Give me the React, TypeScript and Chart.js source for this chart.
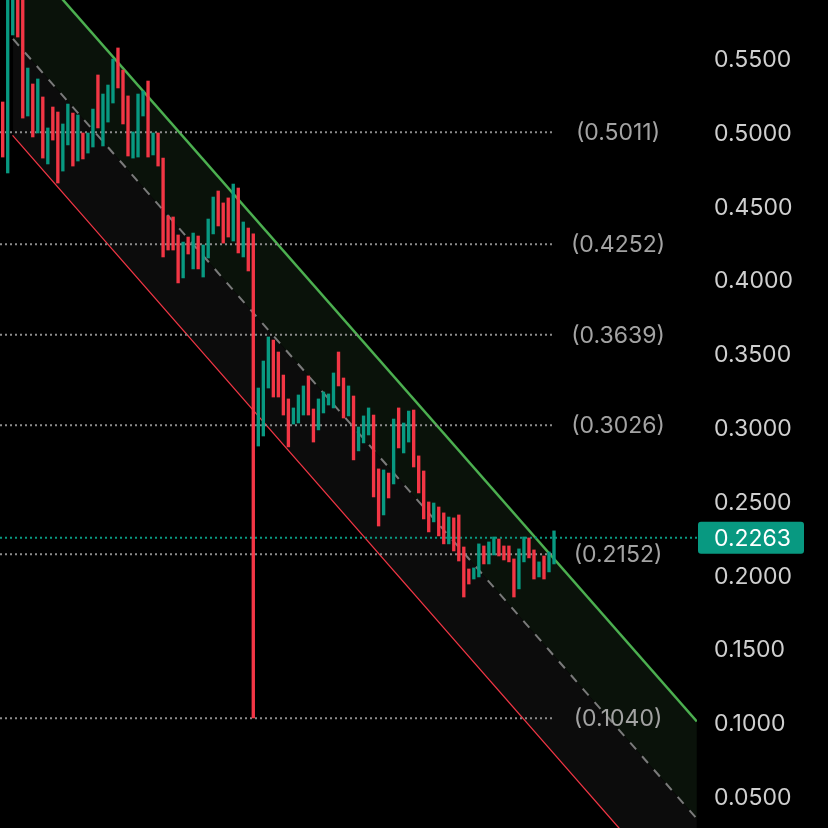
import { useEffect, useRef } from "react";
import { Chart, registerables } from "chart.js";

Chart.register(...registerables);

// Candles (index = bar number), open / close
const opens = [
  0.5216, 0.4735, 0.5670, 0.6000, 0.6000, 0.5121, 0.5338, 0.5006, 0.5250, 0.4796,
  0.5182, 0.5148, 0.4748, 0.4925, 0.5141, 0.4816, 0.5006, 0.4870, 0.4911, 0.5399,
  0.4918, 0.5080, 0.5209, 0.5582, 0.5432, 0.5257, 0.4836, 0.4843, 0.5121, 0.5358,
  0.4857, 0.5006, 0.4836, 0.4444, 0.4437, 0.4315, 0.4024, 0.4301, 0.4085, 0.4308,
  0.4030, 0.4159, 0.4322, 0.4613, 0.4532, 0.4566, 0.4274, 0.4633, 0.4166, 0.4362,
  0.4322, 0.2885, 0.2953, 0.3278, 0.3603, 0.3522, 0.3366, 0.3204, 0.3034, 0.3041,
  0.3095, 0.3360, 0.3136, 0.2994, 0.3109, 0.3163, 0.3143, 0.3522, 0.3346, 0.3089,
  0.3224, 0.2852, 0.2906, 0.2960, 0.3095, 0.2730, 0.2418, 0.2702, 0.2628, 0.3143,
  0.2838, 0.2912, 0.3129, 0.2818, 0.2716, 0.2506, 0.2371, 0.2472, 0.2432, 0.2222,
  0.2398, 0.2418, 0.2201, 0.2052, 0.1984, 0.1998, 0.2208, 0.2086, 0.2147, 0.2255,
  0.2208, 0.2208, 0.2120, 0.1917, 0.2100, 0.2262, 0.2181, 0.1998, 0.2140, 0.2032,
  0.2086,
];
const closes = [
  0.4843, 0.6000, 0.6000, 0.5656, 0.5107, 0.5446, 0.4979, 0.5372, 0.4836, 0.5040,
  0.4958, 0.4667, 0.5067, 0.5202, 0.4782, 0.5128, 0.4830, 0.5006, 0.5168, 0.5040,
  0.5270, 0.5331, 0.5507, 0.5311, 0.5067, 0.4850, 0.5013, 0.5270, 0.5290, 0.4843,
  0.5006, 0.4782, 0.4166, 0.4213, 0.4213, 0.3990, 0.4267, 0.4186, 0.4328, 0.4085,
  0.4247, 0.4423, 0.4572, 0.4376, 0.4260, 0.4301, 0.4660, 0.4193, 0.4403, 0.4071,
  0.1043, 0.3278, 0.3461, 0.3624, 0.3217, 0.3217, 0.3095, 0.2879, 0.3143, 0.3231,
  0.3292, 0.3095, 0.2912, 0.3204, 0.3251, 0.3238, 0.3380, 0.3292, 0.3075, 0.3292,
  0.2791, 0.3014, 0.3089, 0.3143, 0.2540, 0.2343, 0.2723, 0.2533, 0.3068, 0.2872,
  0.3041, 0.3122, 0.2743, 0.2567, 0.2391, 0.2303, 0.2499, 0.2276, 0.2222, 0.2404,
  0.2174, 0.2106, 0.1862, 0.1950, 0.2059, 0.2222, 0.2086, 0.2235, 0.2269, 0.2140,
  0.2113, 0.2100, 0.1862, 0.2188, 0.2269, 0.2127, 0.1984, 0.2100, 0.1984, 0.2167,
  0.2310,
];

// Descending channel (two anchor points on the bar index axis)
const channelX = [2.06, 138.5];
const channelTop = [0.6293, 0.1019];
const channelMid = [0.5643, 0.036];
const channelBottom = [0.4992, -0.0299];

// Horizontal levels
const levelValues = [0.5011, 0.4252, 0.3639, 0.3026, 0.2152, 0.104];
const levelLabels = ["(0.5011)", "(0.4252)", "(0.3639)", "(0.3026)", "(0.2152)", "(0.1040)"];
const levelEndIndex = 110;

const lastPrice = 0.2263;
const lastPriceLabel = "0.2263";

const yTicks = [0.05, 0.1, 0.15, 0.2, 0.25, 0.3, 0.35, 0.4, 0.45, 0.5, 0.55];
const yMin = 0.0297;
const yMax = 0.5907;
const xMin = -0.54;
const xMax = 138.53;

const UP = "#089981";
const DOWN = "#f23645";
const FONT = "Inter, 'Noto Sans', sans-serif";

export default function App() {
  const ref = useRef<HTMLCanvasElement | null>(null);

  useEffect(() => {
    document.body.style.margin = "0";
    document.body.style.background = "#000";
    const canvas = ref.current;
    if (!canvas) return;

    const channelPts = (vals: number[]) => channelX.map((x, i) => ({ x, y: vals[i] }));

    const levelDatasets = levelValues.map((v) => ({
      type: "line" as const,
      data: [
        { x: xMin, y: v },
        { x: levelEndIndex, y: v },
      ],
      borderColor: "#8c8c8c",
      borderWidth: 2,
      borderDash: [2, 3],
      pointRadius: 0,
      fill: false,
      order: 3,
    }));

    const labelsPlugin = {
      id: "levelLabels",
      afterDatasetsDraw(chart: any) {
        const { ctx, scales, chartArea } = chart;
        ctx.save();
        ctx.font = `23px ${FONT}`;
        ctx.fillStyle = "#a3a3a3";
        ctx.textAlign = "center";
        ctx.textBaseline = "middle";
        levelValues.forEach((v, i) => {
          const y = scales.y.getPixelForValue(v);
          ctx.fillText(levelLabels[i], chartArea.right - 79, y + 1);
        });
        ctx.restore();
      },
      afterDraw(chart: any) {
        const { ctx, scales, chartArea } = chart;
        const y = scales.y.getPixelForValue(lastPrice);
        ctx.save();
        const x0 = chartArea.right + 1;
        const w = 106;
        const h = 32;
        ctx.fillStyle = UP;
        ctx.beginPath();
        (ctx as any).roundRect(x0, y - h / 2, w, h, 3);
        ctx.fill();
        ctx.fillStyle = "#ffffff";
        ctx.font = `23px ${FONT}`;
        ctx.textAlign = "left";
        ctx.textBaseline = "middle";
        ctx.fillText(lastPriceLabel, chartArea.right + 17, y + 1);
        ctx.restore();
      },
    };

    const chart = new Chart(canvas, {
      type: "bar",
      data: {
        datasets: [
          {
            type: "line",
            data: channelPts(channelTop),
            borderColor: "#4caf50",
            borderWidth: 2.5,
            pointRadius: 0,
            fill: "+1",
            backgroundColor: "#0a120a",
            order: 5,
          },
          {
            type: "line",
            data: channelPts(channelMid),
            borderColor: "#7a7a7a",
            borderWidth: 2,
            borderDash: [9, 9],
            pointRadius: 0,
            fill: "+1",
            backgroundColor: "#0c0c0c",
            order: 4,
          },
          {
            type: "line",
            data: channelPts(channelBottom),
            borderColor: "#f23645",
            borderWidth: 2.5,
            pointRadius: 0,
            fill: false,
            order: 4,
          },
          ...levelDatasets,
          {
            type: "line",
            data: [
              { x: xMin, y: lastPrice },
              { x: xMax, y: lastPrice },
            ],
            borderColor: UP,
            borderWidth: 2,
            borderDash: [2, 3],
            pointRadius: 0,
            fill: false,
            order: 3,
          },
          {
            type: "bar",
            data: opens.map((o, i) => ({ x: i, y: [o, closes[i]] })),
            backgroundColor: opens.map((o, i) => (closes[i] >= o ? UP : DOWN)),
            borderWidth: 0,
            barThickness: 2.7,
            order: 0,
          } as any,
        ],
      },
      options: {
        animation: false,
        responsive: true,
        maintainAspectRatio: false,
        layout: { padding: 0 },
        plugins: {
          legend: { display: false },
          tooltip: { enabled: false },
        },
        scales: {
          x: {
            type: "linear",
            min: xMin,
            max: xMax,
            offset: false,
            display: false,
            grid: { display: false },
          },
          y: {
            type: "linear",
            position: "right",
            min: yMin,
            max: yMax,
            grid: { display: false, drawTicks: false },
            border: { display: false },
            afterBuildTicks: (axis: any) => {
              axis.ticks = yTicks.map((v) => ({ value: v }));
            },
            afterFit: (axis: any) => {
              axis.width = 131;
              axis.paddingTop = 0;
              axis.paddingBottom = 0;
            },
            ticks: {
              padding: 17,
              color: "#cfcfcf",
              font: { family: FONT, size: 23 },
              callback: (v: any) => Number(v).toFixed(4),
            },
          },
        },
      },
      plugins: [labelsPlugin],
    } as any);

    return () => chart.destroy();
  }, []);

  return (
    <div
      style={{
        position: "fixed",
        left: 0,
        top: 0,
        width: 828,
        height: 828,
        background: "#000",
      }}
    >
      <canvas ref={ref} />
    </div>
  );
}
